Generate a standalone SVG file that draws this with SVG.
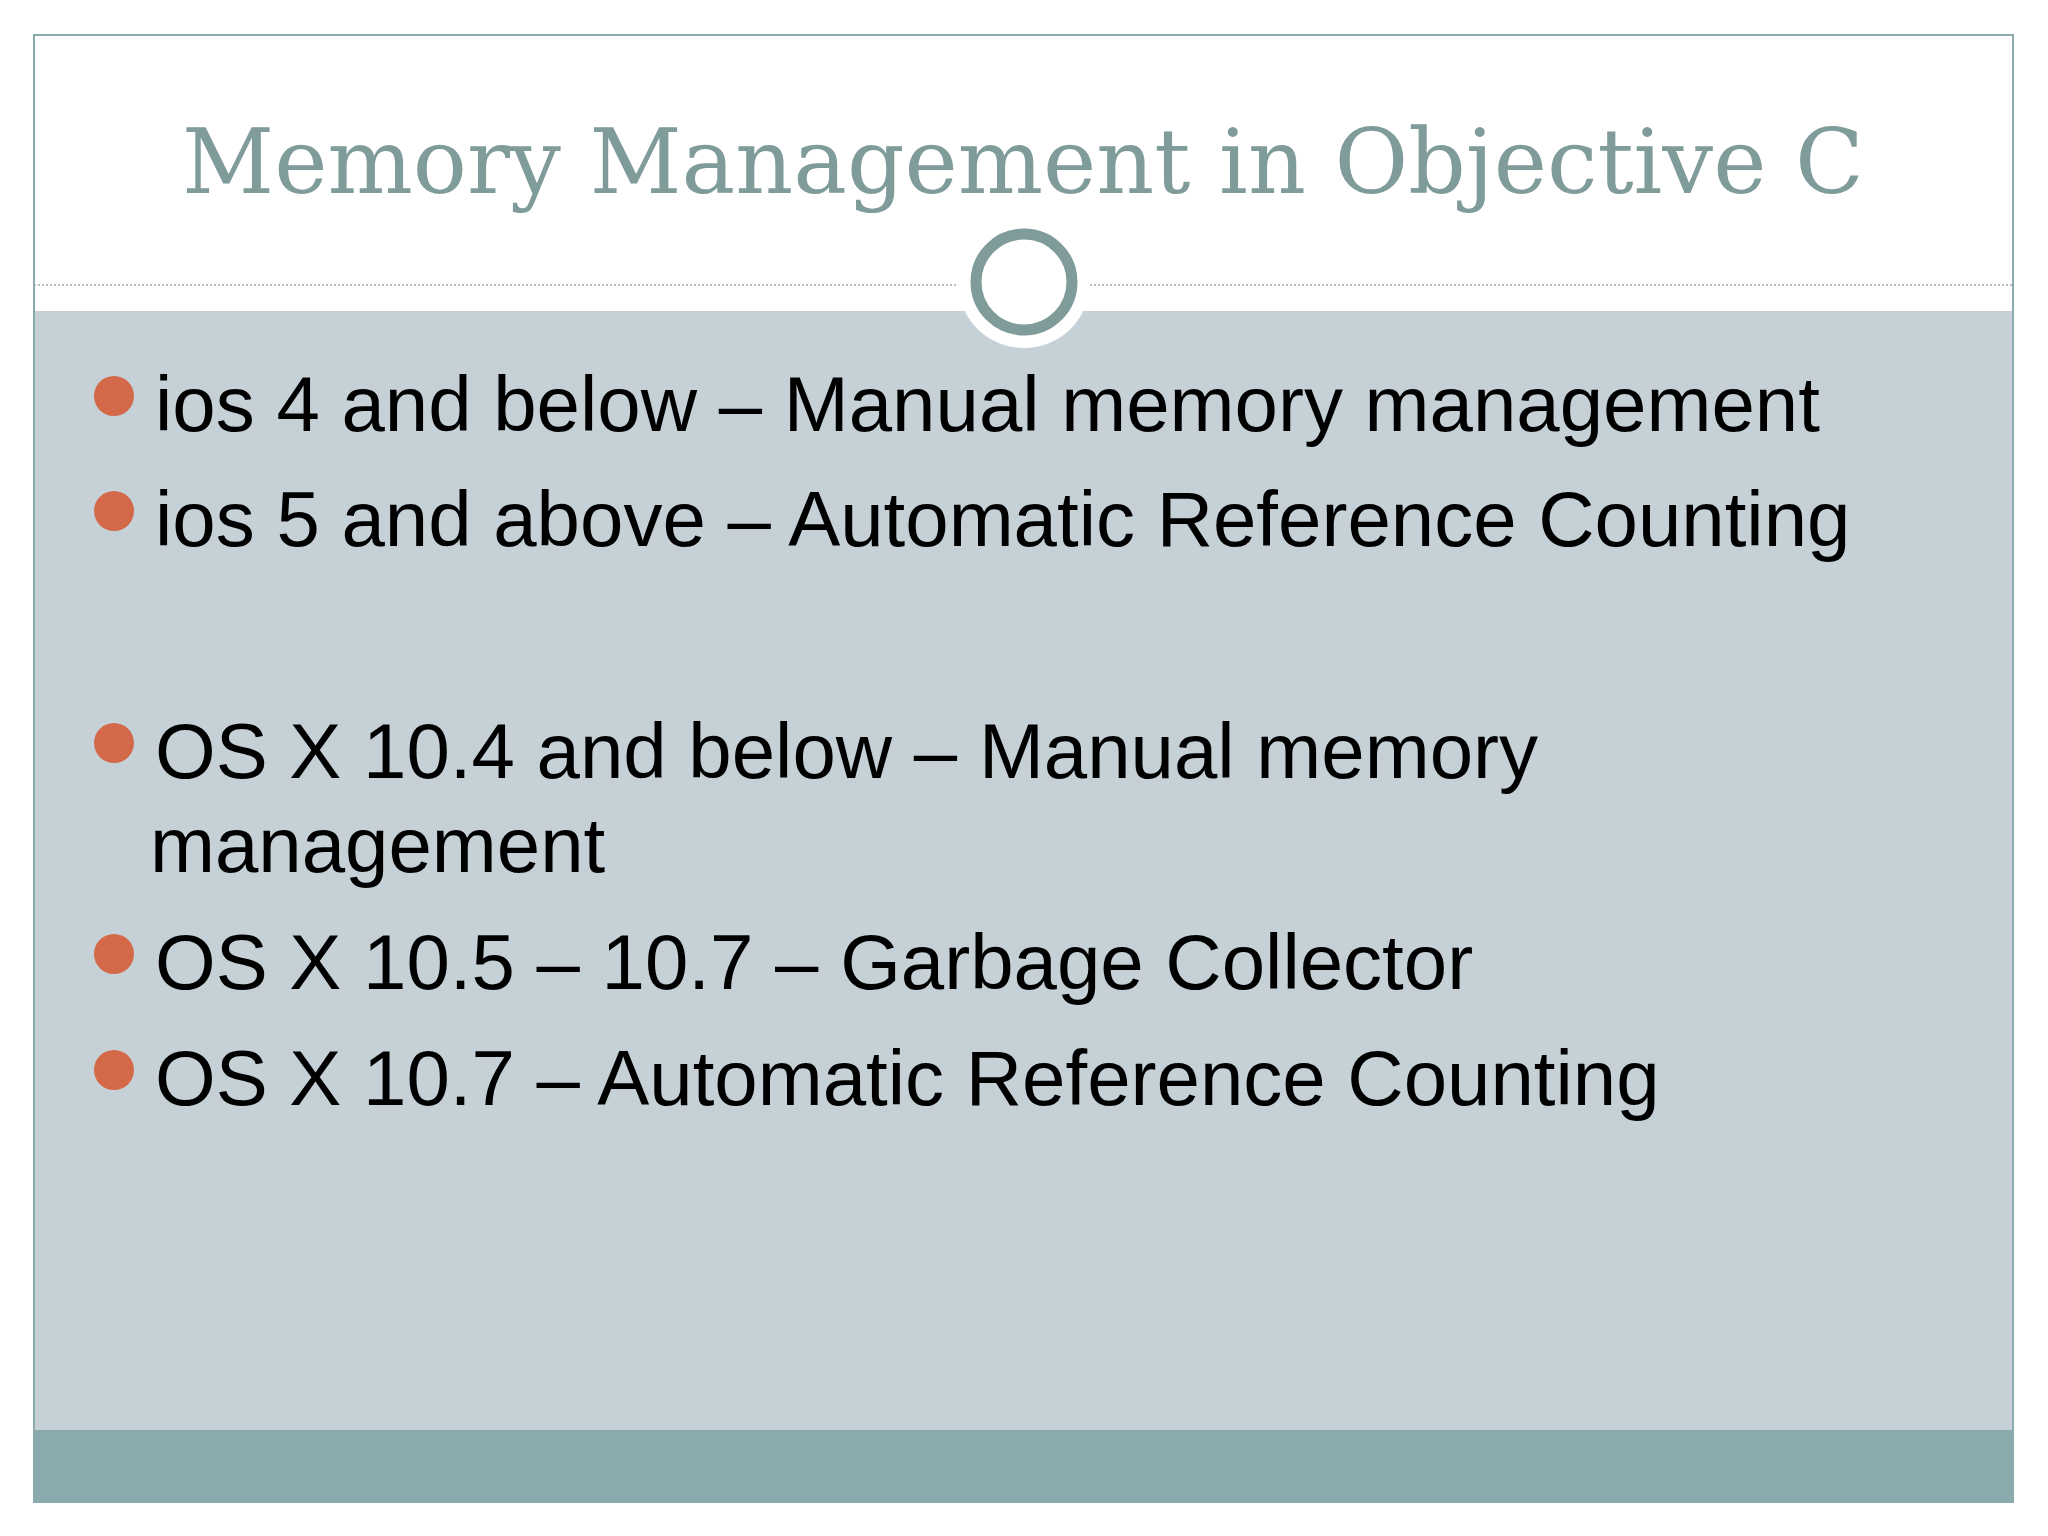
<svg xmlns="http://www.w3.org/2000/svg" width="2048" height="1536" viewBox="0 0 2048 1536">
<style>
.b{font-family:"Liberation Sans",Arial,sans-serif;font-size:78px;fill:#000}
.d{fill:#D4694A}
</style>
<rect width="2048" height="1536" fill="#fff"/>
<rect x="34" y="311" width="1979" height="1120" fill="#C5D1D7"/>
<rect x="34" y="1430" width="1979" height="72" fill="#8BAAAD"/>
<rect x="34" y="35" width="1979" height="1467" fill="none" stroke="#8BAAAD" stroke-width="2"/>
<line x1="34" y1="285" x2="2013" y2="285" stroke="#9aa" stroke-width="1.5" stroke-dasharray="2,2"/>
<circle cx="1024" cy="282" r="66" fill="#fff"/>
<circle cx="1024" cy="282" r="48" fill="#fff" stroke="#7F9C9A" stroke-width="11"/>
<text x="1023" y="193" text-anchor="middle" font-family="'DejaVu Serif','Liberation Serif',serif" font-size="90" fill="#7F9C9A">Memory Management in Objective C</text>
<g id="bullets">
<circle class="d" cx="114" cy="396" r="20"/><text class="b" x="155" y="431">ios 4 and below – Manual memory management</text>
<circle class="d" cx="114" cy="511" r="20"/><text class="b" x="155" y="546">ios 5 and above – Automatic Reference Counting</text>
<circle class="d" cx="114" cy="743" r="20"/><text class="b" x="155" y="778">OS X 10.4 and below – Manual memory</text>
<text class="b" x="150" y="872">management</text>
<circle class="d" cx="114" cy="954" r="20"/><text class="b" x="155" y="989">OS X 10.5 – 10.7 – Garbage Collector</text>
<circle class="d" cx="114" cy="1070" r="20"/><text class="b" x="155" y="1105">OS X 10.7 – Automatic Reference Counting</text>
</g>
</svg>
